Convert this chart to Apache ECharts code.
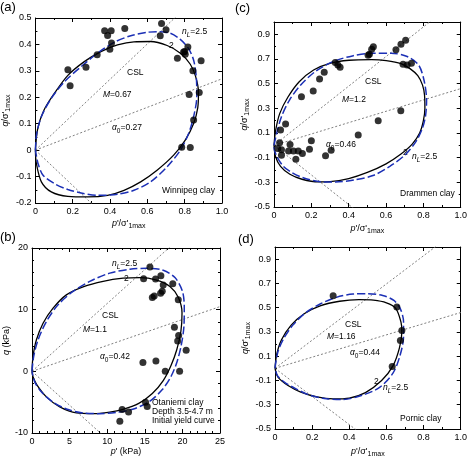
<!DOCTYPE html>
<html>
<head>
<meta charset="utf-8">
<script src="https://cdn.jsdelivr.net/npm/echarts@6/dist/echarts.min.js"></script>
<style>
  html, body { margin: 0; padding: 0; background: #fff; }
  #chart { width: 470px; height: 459px; }
</style>
</head>
<body>
<div id="chart"></div>
<script>
// ---- data ----
// (a) Winnipeg clay
var aPts = [[0.174,0.304],[0.186,0.244],[0.271,0.314],[0.331,0.361],[0.371,0.452],[0.387,0.434],[0.406,0.452],
  [0.408,0.405],[0.399,0.382],[0.479,0.46],[0.676,0.479],[0.70,0.456],[0.669,0.433],[0.761,0.348],[0.794,0.371],
  [0.803,0.363],[0.80,0.373],[0.817,0.39],[0.888,0.338],[0.844,0.30],[0.878,0.218],[0.824,0.211],[0.848,0.114],
  [0.784,0.011],[0.830,0.010]];
var aSolid = [[0,0],[0.012,0.08],[0.045,0.15],[0.1,0.213],[0.174,0.283],[0.262,0.335],[0.351,0.373],[0.44,0.398],
  [0.528,0.41],[0.617,0.411],[0.706,0.396],[0.777,0.367],[0.83,0.325],[0.858,0.28],[0.874,0.22],[0.87,0.16],
  [0.848,0.101],[0.803,0.038],[0.741,-0.019],[0.652,-0.076],[0.564,-0.12],[0.475,-0.152],[0.387,-0.171],
  [0.28,-0.177],[0.174,-0.175],[0.085,-0.158],[0.032,-0.12],[0.005,-0.05],[0,0]];
var aDash = [[0,0],[0.007,0.063],[0.032,0.127],[0.085,0.196],[0.156,0.259],[0.245,0.316],[0.333,0.367],[0.422,0.408],
  [0.511,0.433],[0.6,0.446],[0.66,0.448],[0.72,0.443],[0.775,0.42],[0.82,0.385],[0.848,0.34],[0.862,0.278],
  [0.865,0.203],[0.848,0.127],[0.821,0.063],[0.777,0],[0.706,-0.063],[0.617,-0.12],[0.528,-0.152],[0.44,-0.167],
  [0.333,-0.171],[0.245,-0.162],[0.174,-0.149],[0.103,-0.127],[0.041,-0.095],[0.014,-0.05],[0,0]];
var aCsl = [[0,0],[1,0.67]];
var aAlpha = [[0,0],[1,0.27]];
var aLow = [[0,0],[1,-0.67]];

// (c) Drammen clay
var cPts = [[0.147,0.394],[0.21,0.44],[0.244,0.538],[0.269,0.592],[0.328,0.671],[0.342,0.652],[0.354,0.633],
  [0.504,0.731],[0.511,0.739],[0.523,0.78],[0.532,0.80],[0.653,0.774],[0.680,0.82],[0.705,0.853],[0.691,0.658],
  [0.713,0.652],[0.736,0.666],[0.062,0.172],[0.035,0.124],[0.03,0.02],[0.02,-0.025],[0.04,-0.035],[0.04,-0.08],
  [0.086,0.007],[0.078,-0.045],[0.104,-0.045],[0.13,-0.045],[0.152,-0.066],[0.117,-0.112],[0.19,-0.031],
  [0.2,0.037],[0.276,-0.085],[0.306,-0.039],[0.451,0.083],[0.558,0.2],[0.679,0.28]];
var cSolid = [[0,0],[0.009,0.123],[0.031,0.259],[0.074,0.39],[0.135,0.516],[0.212,0.611],[0.299,0.665],[0.402,0.69],
  [0.523,0.695],[0.601,0.687],[0.68,0.663],[0.73,0.62],[0.77,0.565],[0.795,0.49],[0.806,0.408],[0.808,0.3],
  [0.8,0.2],[0.78,0.1],[0.74,0.01],[0.68,-0.07],[0.6,-0.15],[0.5,-0.22],[0.4,-0.27],[0.3,-0.295],[0.238,-0.297],
  [0.15,-0.275],[0.085,-0.235],[0.035,-0.17],[0.008,-0.09],[0,0]];
var cDash = [[0,0],[0.014,0.096],[0.04,0.232],[0.083,0.367],[0.143,0.489],[0.221,0.598],[0.316,0.679],[0.42,0.725],
  [0.523,0.747],[0.627,0.747],[0.713,0.72],[0.774,0.652],[0.803,0.53],[0.817,0.367],[0.812,0.245],[0.795,0.14],
  [0.76,0.03],[0.7,-0.08],[0.62,-0.17],[0.53,-0.245],[0.43,-0.28],[0.33,-0.298],[0.25,-0.295],[0.16,-0.265],
  [0.095,-0.22],[0.05,-0.17],[0.016,-0.093],[0.003,-0.04],[0,0]];
var cCsl = [[0,0],[1,1.2]];
var cAlpha = [[0,0],[1,0.46]];
var cLow = [[0,0],[1,-1.2]];

// (b) Otaniemi clay, kPa
var bPts = [[15.68,16.9],[14.84,15.03],[16.43,14.96],[17.14,15.5],[17.45,14.0],[17.32,13.0],[17.1,12.68],
  [16.25,12.2],[16.0,11.96],[18.72,14.2],[19.45,11.6],[18.94,7.14],[19.5,5.8],[19.37,4.9],[20.5,3.4],
  [14.75,1.45],[16.48,1.66],[17.72,0.03],[19.63,0.03],[15.1,-5.0],[15.32,-5.72],[11.99,-6.2],[12.84,-6.59],
  [11.68,-8.1]];
var bSolid = [[0,0],[0.13,2.37],[0.58,5.08],[1.47,7.79],[2.8,10.24],[4.57,12.4],[6.79,13.7],[9.46,14.6],
  [12.12,15.1],[14.34,15.2],[16.56,14.8],[18.34,13.76],[19.45,12.0],[19.95,9.5],[19.8,6.5],[19.25,3.5],
  [18.5,1.0],[17.45,-1.5],[16.0,-3.6],[14.2,-5.2],[12.0,-6.2],[10.35,-6.6],[8.13,-6.86],[5.91,-6.75],
  [3.69,-5.77],[1.91,-4.14],[0.67,-2.24],[0.13,-0.88],[0,0]];
var bDash = [[0,0],[0.22,2.37],[0.8,5.08],[1.91,8.07],[3.46,10.78],[5.46,12.95],[7.68,14.58],[10.35,15.93],
  [13.01,16.55],[15.23,16.7],[17.45,16.4],[19.01,15.2],[20.0,13.0],[20.25,10.5],[20.2,7.25],[19.85,4.27],
  [19.3,1.6],[18.5,-0.8],[17.3,-3.0],[15.6,-4.9],[13.5,-6.1],[11.3,-6.65],[9.0,-6.86],[6.79,-6.75],
  [4.57,-6.1],[2.8,-5.0],[1.24,-3.33],[0.36,-1.7],[0,0]];
var bCsl = [[0,0],[25,27.5]];
var bAlpha = [[0,0],[25,10.5]];
var bLow = [[0,0],[25,-27.5]];

// (d) Pornic clay
var dPts = [[0.313,0.599],[0.656,0.505],[0.683,0.311],[0.675,0.23],[0.631,0.015]];
var dSolid = [[0,0],[0.009,0.114],[0.035,0.235],[0.087,0.356],[0.157,0.45],[0.243,0.515],[0.348,0.553],
  [0.452,0.566],[0.53,0.562],[0.6,0.54],[0.65,0.495],[0.678,0.383],[0.683,0.303],[0.67,0.168],[0.635,0.02],
  [0.574,-0.101],[0.487,-0.2],[0.4,-0.245],[0.313,-0.252],[0.226,-0.236],[0.139,-0.196],[0.07,-0.142],
  [0.017,-0.075],[0,0]];
var dDash = [[0,0],[0.014,0.127],[0.043,0.235],[0.096,0.356],[0.165,0.458],[0.243,0.53],[0.33,0.585],[0.42,0.612],
  [0.5,0.615],[0.58,0.6],[0.64,0.56],[0.675,0.49],[0.692,0.383],[0.692,0.26],[0.672,0.1],[0.635,-0.04],
  [0.565,-0.155],[0.47,-0.222],[0.365,-0.257],[0.278,-0.25],[0.191,-0.223],[0.113,-0.169],[0.052,-0.115],
  [0.014,-0.062],[0,0]];
var dCsl = [[0,0],[1,1.16]];
var dAlpha = [[0,0],[1,0.46]];
var dLow = [[0,0],[1,-1.16]];

// ---- styling ----
var FONT = 'Liberation Sans, Arial, sans-serif';
var BLUE = '#1b2fb5';

var richT = {
  n: { fontSize: 8.5, fontFamily: FONT, color: '#000' },
  i: { fontSize: 8.5, fontFamily: FONT, fontStyle: 'italic', color: '#000' },
  s: { fontSize: 6.5, fontFamily: FONT, color: '#000', padding: [6, 0, 0, 0] },
  si: { fontSize: 6.5, fontFamily: FONT, fontStyle: 'italic', color: '#000', padding: [6, 0, 0, 0] }
};
var richAxis = {
  n: { fontSize: 9, fontFamily: FONT, color: '#000' },
  i: { fontSize: 9, fontFamily: FONT, fontStyle: 'italic', color: '#000' },
  s: { fontSize: 7, fontFamily: FONT, color: '#000', padding: [6, 0, 0, 0] }
};

function fmt1(v) { return Math.abs(v) < 1e-9 ? '0' : v.toFixed(1); }
function fmtY(v) { return v > 0.95 ? '' : (Math.abs(v) < 1e-9 ? '0' : v.toFixed(1)); }
function fmtInt(v) { return String(Math.round(v)); }

function axisPair(dim, gi, min, max, interval, minorSplit, formatter, name, gap) {
  var main = {
    type: 'value', gridIndex: gi, min: min, max: max, interval: interval,
    position: dim === 'x' ? 'bottom' : 'left',
    axisLine: { onZero: false, lineStyle: { color: '#000', width: 1 } },
    axisTick: { inside: true, length: 4, lineStyle: { color: '#000' } },
    minorTick: { show: true, splitNumber: minorSplit, length: 2, lineStyle: { color: '#000' } },
    axisLabel: { color: '#000', fontSize: 9, fontFamily: FONT, margin: 4, formatter: formatter },
    splitLine: { show: false },
    name: name, nameLocation: 'middle', nameGap: gap,
    nameRotate: dim === 'y' ? 90 : 0,
    nameTextStyle: { rich: richAxis, fontSize: 9, fontFamily: FONT, color: '#000' }
  };
  var twin = {
    type: 'value', gridIndex: gi, min: min, max: max, interval: interval,
    position: dim === 'x' ? 'top' : 'right',
    axisLine: { onZero: false, lineStyle: { color: '#000', width: 1 } },
    axisTick: { inside: true, length: 4, lineStyle: { color: '#000' } },
    minorTick: { show: true, splitNumber: minorSplit, length: 2, lineStyle: { color: '#000' } },
    axisLabel: { show: false },
    splitLine: { show: false }
  };
  return [main, twin];
}

var nameQ = '{i|q}{n|/σ\'}{s|1max}';
var nameP = '{i|p}{n|\'/σ\'}{s|1max}';

var xAxes = [].concat(
  axisPair('x', 0, 0, 1, 0.2, 2, fmt1, nameP, 14),
  axisPair('x', 1, 0, 1, 0.2, 2, fmt1, nameP, 15),
  axisPair('x', 2, 0, 25, 5, 5, fmtInt, '{i|p}{n|\' (kPa)}', 13),
  axisPair('x', 3, 0, 1, 0.2, 2, fmt1, nameP, 16)
);
var yAxes = [].concat(
  axisPair('y', 0, -0.2, 0.5, 0.1, 2, fmt1, nameQ, 16),
  axisPair('y', 1, -0.5, 1.0, 0.2, 2, fmtY, nameQ, 21),
  axisPair('y', 2, -10, 20, 10, 5, fmtInt, '{i|q}{n| (kPa)}', 15),
  axisPair('y', 3, -0.5, 1.0, 0.2, 2, fmtY, nameQ, 21)
);

function panelSeries(gi, pts, solid, dash, csl, alpha, low) {
  var ax = { xAxisIndex: gi * 2, yAxisIndex: gi * 2 };
  var dotted = { color: '#808080', width: 1, type: [2, 2] };
  var list = [];
  [csl, alpha, low].forEach(function (d) {
    list.push(Object.assign({
      type: 'line', data: d, symbol: 'none', silent: true, clip: true,
      lineStyle: dotted, z: 1
    }, ax));
  });
  list.push(Object.assign({
    type: 'line', data: solid, symbol: 'none', smooth: 0.3, silent: true, clip: true,
    lineStyle: { color: '#000', width: 1.3 }, z: 2
  }, ax));
  list.push(Object.assign({
    type: 'line', data: dash, symbol: 'none', smooth: 0.3, silent: true, clip: true,
    lineStyle: { color: BLUE, width: 1.5, type: [8, 3] }, z: 3
  }, ax));
  list.push(Object.assign({
    type: 'scatter', data: pts, symbol: 'circle', symbolSize: 7, silent: true,
    itemStyle: { color: '#000' }, z: 4
  }, ax));
  return list;
}

function txt(x, y, text, size) {
  return {
    type: 'text', x: x, y: y, silent: true,
    style: {
      text: text, rich: richT, fill: '#000', fontSize: size || 8.5, fontFamily: FONT,
      align: 'left', verticalAlign: 'middle'
    }
  };
}

var labels = [
  // (a)
  txt(0, 7, '(a)', 13),
  txt(182, 32, '{i|n}{si|L}{n|=2.5}'),
  txt(169, 46, '2'),
  txt(127, 73, 'CSL'),
  txt(103, 95, '{i|M}{n|=0.67}'),
  txt(112, 128, '{i|α}{s|0}{n|=0.27}'),
  txt(162, 191, 'Winnipeg clay'),
  // (c)
  txt(235, 8, '(c)', 13),
  txt(365, 82, 'CSL'),
  txt(342, 100, '{i|M}{n|=1.2}'),
  txt(326, 145, '{i|α}{s|0}{n|=0.46}'),
  txt(403, 153, '2'),
  txt(412, 157, '{i|n}{si|L}{n|=2.5}'),
  txt(400, 194, 'Drammen clay'),
  // (b)
  txt(0, 237, '(b)', 13),
  txt(112, 264, '{i|n}{si|L}{n|=2.5}'),
  txt(124, 279, '2'),
  txt(102, 316, 'CSL'),
  txt(83, 330, '{i|M}{n|=1.1}'),
  txt(100, 357, '{i|α}{s|0}{n|=0.42}'),
  txt(152, 403, 'Otaniemi clay'),
  txt(152, 412, 'Depth 3.5-4.7 m'),
  txt(152, 421, 'Initial yield curve'),
  // (d)
  txt(238, 239, '(d)', 13),
  txt(345, 325, 'CSL'),
  txt(327, 337, '{i|M}{n|=1.16}'),
  txt(350, 353, '{i|α}{s|0}{n|=0.44}'),
  txt(374, 382, '2'),
  txt(383, 388, '{i|n}{si|L}{n|=2.5}'),
  txt(400, 419, 'Pornic clay')
];

var chart = echarts.init(document.getElementById('chart'), null, { renderer: 'canvas' });
chart.setOption({
  animation: false,
  backgroundColor: '#fff',
  grid: [
    { left: 34, top: 18, width: 188, height: 185 },
    { left: 274, top: 22, width: 194, height: 185 },
    { left: 32, top: 248, width: 188, height: 185 },
    { left: 275, top: 247, width: 192, height: 186 }
  ],
  xAxis: xAxes,
  yAxis: yAxes,
  series: [].concat(
    panelSeries(0, aPts, aSolid, aDash, aCsl, aAlpha, aLow),
    panelSeries(1, cPts, cSolid, cDash, cCsl, cAlpha, cLow),
    panelSeries(2, bPts, bSolid, bDash, bCsl, bAlpha, bLow),
    panelSeries(3, dPts, dSolid, dDash, dCsl, dAlpha, dLow)
  ),
  graphic: labels
});
</script>
</body>
</html>
